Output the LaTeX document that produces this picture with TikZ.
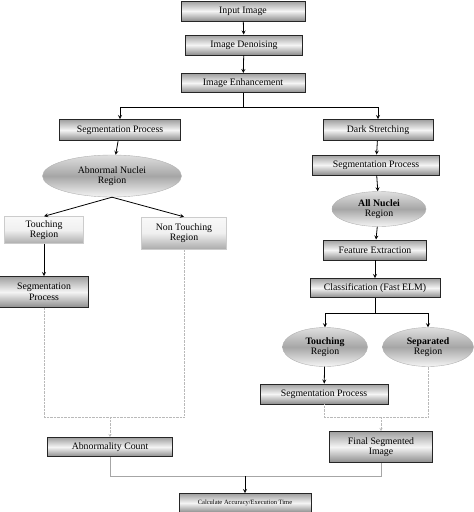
\documentclass[tikz,border=0pt]{standalone}
\usepackage{fontspec}
\setmainfont{Liberation Serif}
\usetikzlibrary{shapes,arrows,positioning,calc}

\begin{document}
\begin{tikzpicture}[
    x=1pt, y=-1pt,
    font=\fontsize{9.8}{10.5}\selectfont,
    box/.style={rectangle, draw=black!85, line width=0.9pt, top color=gray!75, bottom color=gray!90, middle color=gray!8, align=center, inner sep=1pt},
    lightbox/.style={rectangle, draw=gray!40, top color=gray!5, bottom color=gray!65, middle color=gray!12, align=center, inner sep=1pt},
    region/.style={ellipse, draw=gray!60, top color=gray!25, bottom color=gray!8, middle color=gray!70, align=center, inner sep=0pt},
    arrow/.style={->, >=stealth, thick},
    merge/.style={draw=gray!55, densely dotted},
    joinline/.style={draw=gray!70}
]
\useasboundingbox (0,0) rectangle (474,512);

% preprocessing
\node[box, minimum width=124, minimum height=20] (input) at (243,11) {Input Image};
\node[box, minimum width=117, minimum height=20] (denoise) at (244,45) {Image Denoising};
\node[box, minimum width=124, minimum height=19] (enhance) at (243,83) {Image Enhancement};

% left branch
\node[box, minimum width=121, minimum height=21] (segL) at (120,130) {Segmentation Process};
\node[region, minimum width=139, minimum height=42] (abnormal) at (112,176) {Abnormal Nuclei\\Region};
\node[lightbox, minimum width=79, minimum height=27] (touchL) at (44,230) {Touching\\Region};
\node[lightbox, minimum width=85, minimum height=32] (nontouch) at (184,233) {Non Touching\\Region};
\node[box, minimum width=89, minimum height=31] (segL2) at (44,292) {Segmentation\\Process};
\node[box, minimum width=125, minimum height=19] (abcount) at (110,447) {Abnormality Count};

% right branch
\node[box, minimum width=110, minimum height=21] (dark) at (378,130) {Dark Stretching};
\node[box, minimum width=127, minimum height=20] (segR) at (376,165) {Segmentation Process};
\node[region, minimum width=94, minimum height=35] (allnuc) at (379,209) {\textbf{All Nuclei}\\Region};
\node[box, minimum width=103, minimum height=20] (feature) at (375,250) {Feature Extraction};
\node[box, minimum width=130, minimum height=19] (classify) at (375,288) {Classification (Fast ELM)};
\node[region, minimum width=85, minimum height=39] (touchR) at (325,347) {\textbf{Touching}\\Region};
\node[region, minimum width=91, minimum height=39] (sep) at (428,347) {\textbf{Separated}\\Region};
\node[box, minimum width=128, minimum height=20] (segR2) at (324,394) {Segmentation Process};
\node[box, minimum width=103, minimum height=31] (final) at (381,447) {Final Segmented\\Image};

% result
\node[box, minimum width=132, minimum height=19, font=\fontsize{6.5}{7}\selectfont] (calc) at (245,503) {Calculate Accuracy/Execution Time};

% connections
\draw[arrow] (input) -- (denoise);
\draw[arrow] (denoise) -- (enhance);
\coordinate (split) at ($(enhance.south)+(0,14)$);
\draw[thick] (enhance.south) -- (split);
\draw[arrow] (split) -| (segL);
\draw[arrow] (split) -| (dark);

\draw[arrow] (segL) -- (abnormal);
\draw[arrow] (abnormal.south) -- (touchL.north);
\draw[arrow] (abnormal.south) -- (nontouch.north);
\draw[arrow] (touchL) -- (segL2);

\draw[arrow] (dark) -- (segR);
\draw[arrow] (segR) -- (allnuc);
\draw[arrow] (allnuc) -- (feature);
\draw[arrow] (feature) -- (classify);
\coordinate (split2) at ($(classify.south)+(0,15)$);
\draw[thick] (classify.south) -- (split2);
\draw[arrow] (split2) -| (touchR);
\draw[arrow] (split2) -| (sep);
\draw[arrow] (touchR) -- (segR2);

% merging
\coordinate (mergeL) at ($(abcount.north)+(0,-20)$);
\draw[merge] (segL2.south) |- (mergeL) -| (nontouch.south);
\draw[merge, ->, >=stealth] (mergeL) -- (abcount);
\coordinate (mergeR) at ($(final.north)+(0,-14)$);
\draw[merge] (segR2.south) |- (mergeR) -| (sep.south);
\draw[merge, ->, >=stealth] (mergeR) -- (final);

\coordinate (joinB) at ($(calc.north)+(0,-17)$);
\draw[joinline] (abcount.south) |- (joinB) -| (final.south);
\draw[arrow] (joinB) -- (calc);

\end{tikzpicture}
\end{document}
